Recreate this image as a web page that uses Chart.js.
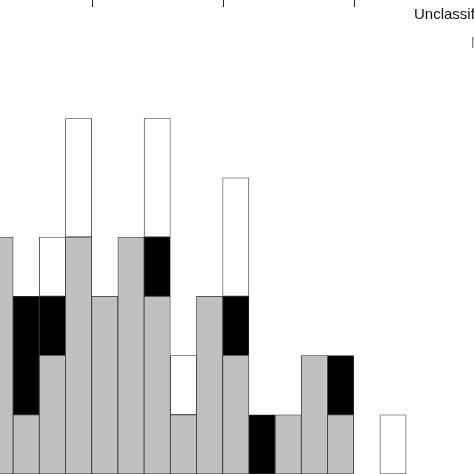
<!DOCTYPE html>
<html>
<head>
<meta charset="utf-8">
<script src="https://cdn.jsdelivr.net/npm/chart.js@4.4.1/dist/chart.umd.min.js"></script>
<style>
  html, body { margin: 0; padding: 0; background: #fff; }
  #wrap { position: relative; width: 474px; height: 474px; overflow: hidden; background: #fff; }
  #chart { position: absolute; left: 0; top: 0; }
  #legendText { position: absolute; left: 414px; top: 5px; font-family: "Liberation Sans", Arial, Helvetica, sans-serif; font-size: 15px; color: #111; white-space: nowrap; line-height: normal; }
  #legendPatch { position: absolute; left: 472px; top: 37px; width: 20px; height: 11px; background: #c8c8c8; border-left: 1px solid #888; box-sizing: border-box; }
</style>
</head>
<body>
<div id="wrap">
  <canvas id="chart" width="474" height="474"></canvas>
  <div id="legendText">Unclassified</div>
  <div id="legendPatch"></div>
</div>
<script>
// Bin centres (x positions of the bars)
const binCenters = [1.5, 2.5, 3.5, 4.5, 5.5, 6.5, 7.5, 8.5, 9.5, 10.5, 11.5, 12.5, 13.5, 14.5, 15.5, 16.5];
// Stacked series (bottom to top)
const greyValues  = [4, 1, 2, 4, 3, 4, 3, 1, 3, 2, 0, 1, 2, 1, 0, 0];
const blackValues = [0, 2, 1, 0, 0, 0, 1, 0, 0, 1, 1, 0, 0, 1, 0, 0];
const whiteValues = [0, 0, 1, 2, 0, 0, 2, 1, 0, 2, 0, 0, 0, 0, 0, 1];
// Top axis tick positions
const xTickValues = [5, 10, 15];
const seriesNames = ['Classified', 'Misclassified', 'Unclassified'];

function toPoints(vals) {
  return vals.map((v, i) => ({ x: binCenters[i], y: v === 0 ? null : v }));
}

const topTicks = {
  id: 'topTicks',
  afterDraw(chart) {
    const ctx = chart.ctx;
    const xs = chart.scales.x;
    const top = chart.chartArea.top;
    ctx.save();
    ctx.strokeStyle = '#222';
    ctx.lineWidth = 1;
    xTickValues.forEach(v => {
      const px = Math.round(xs.getPixelForValue(v)) + 0.5;
      ctx.beginPath();
      ctx.moveTo(px, top);
      ctx.lineTo(px, top + 7);
      ctx.stroke();
    });
    ctx.restore();
  }
};

const common = { borderColor: '#333', borderWidth: 0.8, barPercentage: 1.0, categoryPercentage: 1.0, borderSkipped: false };

new Chart(document.getElementById('chart'), {
  type: 'bar',
  data: {
    datasets: [
      Object.assign({ label: seriesNames[0], data: toPoints(greyValues),  backgroundColor: '#c0c0c0' }, common),
      Object.assign({ label: seriesNames[1], data: toPoints(blackValues), backgroundColor: '#000000' }, common),
      Object.assign({ label: seriesNames[2], data: toPoints(whiteValues), backgroundColor: '#ffffff' }, common)
    ]
  },
  options: {
    responsive: false,
    animation: false,
    layout: { padding: 0 },
    plugins: { legend: { display: false }, tooltip: { enabled: false }, title: { display: false } },
    scales: {
      x: { type: 'linear', stacked: true, display: false, min: 1.5, max: 1.5 + 474 / 26.2, offset: false },
      y: { type: 'linear', stacked: true, display: false, min: 0, max: 8 }
    }
  },
  plugins: [topTicks]
});
</script>
</body>
</html>
